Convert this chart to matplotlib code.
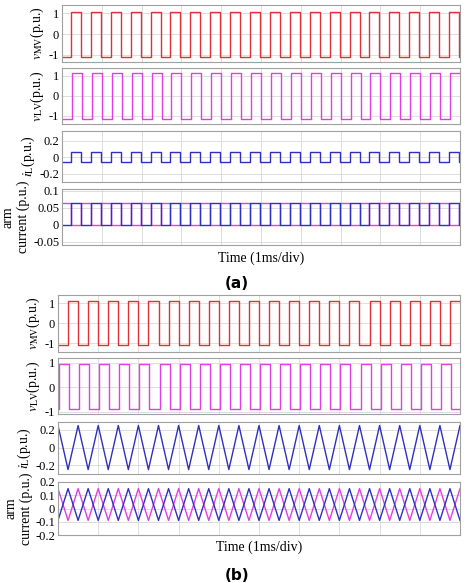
import numpy as np
import matplotlib
matplotlib.use("Agg")
import matplotlib.pyplot as plt

plt.rcParams['font.family'] = ['Liberation Serif', 'DejaVu Serif']
plt.rcParams['mathtext.fontset'] = 'stix'

PERIOD = 0.5   # ms
N_PER = 20
# one period of each trace: (time in period [ms], value)
a_vmv_t = [0, 0.225, 0.225, 0.475, 0.475, 0.5]; a_vmv_v = [-1.1, -1.1, 1.05, 1.05, -1.1, -1.1]
a_vlv_t = [0, 0.25, 0.25, 0.5];                a_vlv_v = [-1.15, -1.15, 1.15, 1.15]
a_il_t = [0, 0.225, 0.225, 0.475, 0.475, 0.5];  a_il_v = [-0.06, -0.06, 0.07, 0.07, -0.06, -0.06]
a_arm1_t = [0, 0.225, 0.225, 0.475, 0.475, 0.5]; a_arm1_v = [0.064, 0.064, 0.0, 0.0, 0.064, 0.064]
a_arm2_t = [0, 0.225, 0.225, 0.475, 0.475, 0.5]; a_arm2_v = [0.0, 0.0, 0.065, 0.065, 0.0, 0.0]

b_vmv_t = [0, 0.25, 0.25, 0.5];                 b_vmv_v = [-1.1, -1.1, 1.1, 1.1]
b_vlv_t = [0, 0.025, 0.025, 0.275, 0.275, 0.5]; b_vlv_v = [-0.9, -0.9, 0.95, 0.95, -0.9, -0.9]
b_il_t = [0, 0.25, 0.5];                        b_il_v = [0.25, -0.25, 0.25]
b_arm1_t = [0, 0.25, 0.5];                      b_arm1_v = [-0.09, 0.15, -0.09]
b_arm2_t = [0, 0.25, 0.5];                      b_arm2_v = [0.15, -0.09, 0.15]

def tile(t, v):
    tt = np.concatenate([np.array(t) + k * PERIOD for k in range(N_PER)])
    vv = np.tile(v, N_PER)
    return tt, vv

RED = '#e0303a'; PINK = '#e040e0'; BLUE = '#3030c0'

fig = plt.figure(figsize=(4.74, 5.83), dpi=100)
W, H = 474, 583

def ax_at(l, r, top, bot):
    return fig.add_axes([l / W, 1 - bot / H, (r - l) / W, (bot - top) / H])

def style(ax, ylim, yticks, ylabel):
    ax.set_xlim(0, 10)
    ax.set_ylim(*ylim)
    ax.set_xticks(np.arange(0, 11, 1))
    ax.set_xticklabels([])
    ax.set_yticks(yticks)
    ax.set_yticklabels([('%g' % y) for y in yticks], fontsize=9)
    ax.tick_params(length=0, pad=2)
    ax.grid(True, color='#d8d8d8', lw=0.6)
    for s in ax.spines.values():
        s.set_color('#a0a0a0'); s.set_linewidth(0.8)
    ax.set_ylabel(ylabel, fontsize=10, labelpad=2)

panels = [
    dict(l=62, r=460, rows=[(5, 62), (68, 124), (131, 182), (189, 245)], tlab=258, plab=283, name='(a)',
         data=[[(a_vmv_t, a_vmv_v, RED)], [(a_vlv_t, a_vlv_v, PINK)], [(a_il_t, a_il_v, BLUE)],
               [(a_arm1_t, a_arm1_v, PINK), (a_arm2_t, a_arm2_v, BLUE)]],
         ylims=[(-1.35, 1.4), (-1.4, 1.4), (-0.3, 0.32), (-0.06, 0.105)],
         yticks=[[-1, 0, 1], [-1, 0, 1], [-0.2, 0, 0.2], [-0.05, 0, 0.05, 0.1]]),
    dict(l=58, r=460, rows=[(295, 352), (358, 414), (422, 474), (482, 535)], tlab=547, plab=576, name='(b)',
         data=[[(b_vmv_t, b_vmv_v, RED)], [(b_vlv_t, b_vlv_v, PINK)], [(b_il_t, b_il_v, BLUE)],
               [(b_arm2_t, b_arm2_v, PINK), (b_arm1_t, b_arm1_v, BLUE)]],
         ylims=[(-1.45, 1.4), (-1.1, 1.2), (-0.3, 0.29), (-0.2, 0.2)],
         yticks=[[-1, 0, 1], [-1, 0, 1], [-0.2, 0, 0.2], [-0.2, -0.1, 0, 0.1, 0.2]]),
]
labels = [r'$v_{\rm MV}$(p.u.)', r'$v_{\rm LV}$(p.u.)', r'$i_{\rm L}$(p.u.)', 'arm\ncurrent (p.u.)']

for p in panels:
    for i, (top, bot) in enumerate(p['rows']):
        ax = ax_at(p['l'], p['r'], top, bot)
        for t, v, c in p['data'][i]:
            tt, vv = tile(t, v)
            ax.plot(tt, vv, color=c, lw=1.0)
        style(ax, p['ylims'][i], p['yticks'][i], labels[i])
    fig.text((p['l'] + p['r']) / 2 / W, 1 - p['tlab'] / H, 'Time (1ms/div)', ha='center', va='center', fontsize=10)
    fig.text(0.5, 1 - p['plab'] / H, p['name'], ha='center', va='center', fontsize=11,
             family=['DejaVu Sans'], fontweight='bold')

fig.savefig('out.png', dpi=100)
